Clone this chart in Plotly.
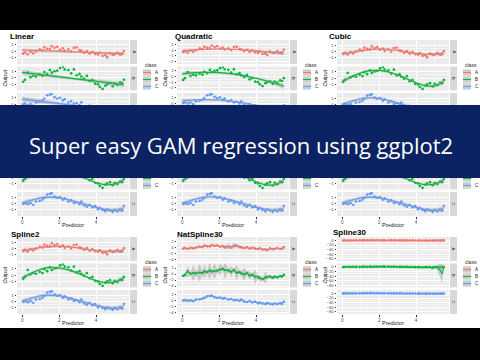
import plotly.graph_objects as go

W, H = 480, 360

# ---------------- data ----------------
predictor = [0.05, 0.15, 0.3, 0.45, 0.6, 0.75, 0.95, 1.1, 1.2, 1.35, 1.5, 1.6, 1.75, 1.9, 2.05, 2.2, 2.3, 2.5,
             2.65, 2.8, 2.95, 3.1, 3.2, 3.35, 3.5, 3.65, 3.8, 3.95, 4.1, 4.2, 4.35, 4.5, 4.6, 4.75, 4.9, 5.0,
             5.15, 5.3, 5.4, 5.5]
output_A = [-0.35, -0.2, -0.45, -0.1, -0.3, 0.0, 0.3, 0.15, 0.6, 0.4, 0.35, 0.8, 0.55, 0.7, 0.25, 0.45, 0.1, 0.3,
            0.0, 0.55, 0.6, 0.2, 0.1, -0.2, 0.05, -0.35, -0.1, -0.4, -0.5, -0.25, -0.7, -0.6, -0.9, -0.3, -0.55,
            -0.45, -0.2, -0.5, -0.4, 0.05]
output_B = [-0.6, -0.3, 0.8, 0.1, 0.3, 0.2, 0.5, 0.3, 0.9, 0.6, 1.2, 0.8, 1.0, 1.1, 1.5, 1.7, 1.3, 1.2, 0.7, 1.3,
            0.4, 0.6, 0.2, -0.1, 0.3, -0.5, -0.3, -0.9, -1.0, -1.4, -1.7, -1.2, -1.0, -0.8, -1.3, -0.9, -1.1,
            -0.7, -0.8, -0.3]
output_C = [0.0, 0.1, -0.1, 0.05, -0.2, 0.3, 0.4, 0.6, 0.9, 1.4, 1.5, 1.6, 1.1, 0.9, 1.0, 0.6, 0.8, 0.3, 0.5, 0.1,
            0.2, -0.1, 0.3, -0.3, -0.5, -0.2, -0.6, -0.4, -0.9, -0.7, -1.0, -1.2, -0.9, -1.1, -1.3, -1.0, -1.2,
            -0.9, -1.1, -0.4]
classes = ["A", "B", "C"]

# Linear fit
lin_x = [0, 2.75, 5.5]
lin_A = [0.2, -0.08, -0.35]
lin_B = [0.85, -0.1, -1.05]
lin_C = [0.8, -0.15, -1.1]
lin_se_A = [0.25, 0.12, 0.25]
lin_se_B = [0.4, 0.18, 0.4]
lin_se_C = [0.4, 0.18, 0.4]

# Quadratic fit
quad_x = [0, 1, 2, 3, 4, 5, 5.5]
quad_A = [-0.15, 0.1, 0.2, 0.1, -0.15, -0.45, -0.6]
quad_B = [0.5, 0.75, 0.7, 0.35, -0.3, -1.2, -1.75]
quad_C = [0.4, 0.6, 0.55, 0.2, -0.4, -1.2, -1.6]
quad_se_A = [0.25, 0.15, 0.12, 0.12, 0.15, 0.25, 0.35]
quad_se_B = [0.35, 0.2, 0.18, 0.18, 0.2, 0.35, 0.5]
quad_se_C = [0.35, 0.2, 0.18, 0.18, 0.2, 0.35, 0.5]

# Cubic fit
cub_x = [0, 0.5, 1, 1.5, 2, 2.5, 3, 3.5, 4, 4.5, 5, 5.5]
cub_A = [-0.35, -0.15, 0.1, 0.3, 0.4, 0.35, 0.15, -0.1, -0.3, -0.45, -0.45, -0.3]
cub_B = [-0.55, 0.2, 0.8, 1.15, 1.2, 0.95, 0.5, -0.1, -0.75, -1.2, -1.25, -0.6]
cub_C = [-0.1, 0.5, 0.9, 1.05, 0.95, 0.65, 0.25, -0.2, -0.6, -0.9, -1.05, -0.9]
cub_se_A = [0.3, 0.2, 0.15, 0.14, 0.14, 0.14, 0.14, 0.14, 0.14, 0.15, 0.2, 0.3]
cub_se_B = [0.4, 0.25, 0.2, 0.18, 0.18, 0.18, 0.18, 0.18, 0.18, 0.2, 0.25, 0.4]
cub_se_C = [0.4, 0.25, 0.2, 0.18, 0.18, 0.18, 0.18, 0.18, 0.18, 0.2, 0.25, 0.4]

# Spline2 fit
sp2_x = [0, 0.5, 1, 1.5, 2, 2.5, 3, 3.5, 4, 4.5, 5, 5.5]
sp2_A = [-0.35, -0.1, 0.15, 0.3, 0.35, 0.3, 0.1, -0.15, -0.35, -0.45, -0.45, -0.35]
sp2_B = [-0.5, 0.3, 0.9, 1.2, 1.1, 0.8, 0.3, -0.3, -0.9, -1.2, -1.1, -0.5]
sp2_C = [0.0, 0.5, 0.9, 1.0, 0.9, 0.6, 0.2, -0.2, -0.6, -0.95, -1.05, -0.85]
sp2_se_A = [0.3, 0.2, 0.16, 0.15, 0.15, 0.15, 0.15, 0.15, 0.15, 0.16, 0.2, 0.3]
sp2_se_B = [0.4, 0.26, 0.2, 0.18, 0.18, 0.18, 0.18, 0.18, 0.18, 0.2, 0.26, 0.4]
sp2_se_C = [0.4, 0.26, 0.2, 0.18, 0.18, 0.18, 0.18, 0.18, 0.18, 0.2, 0.26, 0.4]

# NatSpline30: line follows the data, confidence half-widths
ns_se_A = [0.3, 0.25, 0.3, 0.25, 0.3, 0.25, 0.3, 0.3, 0.35, 0.3, 0.3, 0.35, 0.3, 0.3, 0.35, 0.4, 0.6, 0.8, 0.5,
           0.9, 0.6, 0.4, 0.3, 0.3, 0.25, 0.3, 0.25, 0.3, 0.3, 0.25, 0.3, 0.3, 0.25, 0.3, 0.25, 0.3, 0.25, 0.3,
           0.3, 0.4]
ns_se_B = [0.4, 0.6, 1.8, 0.5, 2.7, 0.6, 3.0, 0.7, 2.4, 0.5, 3.2, 0.6, 2.7, 0.6, 2.2, 0.5, 2.8, 0.6, 1.7, 0.5,
           2.6, 0.6, 0.8, 2.2, 0.6, 1.4, 0.5, 2.4, 0.6, 1.1, 0.5, 2.0, 0.6, 0.5, 0.4, 0.5, 0.3, 0.4, 0.3, 0.4]
ns_se_C = [0.3, 0.2, 0.2, 0.25, 0.2, 0.2, 0.25, 0.2, 0.2, 0.25, 0.2, 0.2, 0.25, 0.2, 0.2, 0.25, 0.2, 0.2, 0.25,
           0.2, 0.2, 0.25, 0.2, 0.2, 0.25, 0.2, 0.2, 0.25, 0.2, 0.2, 0.25, 0.2, 0.2, 0.25, 0.2, 0.2, 0.25, 0.2,
           0.2, 0.3]

# Spline30: blows up at the right end of class B
s30_B = [-0.6, -0.3, 0.8, 0.1, 0.3, 0.2, 0.5, 0.3, 0.9, 0.6, 1.2, 0.8, 1.0, 1.1, 1.5, 1.7, 1.3, 1.2, 0.7, 1.3,
         0.4, 0.6, 0.2, -0.1, 0.3, -0.5, -0.3, -0.9, -1.0, -1.4, -1.7, -1.2, -1.0, -2.0, -6.0, 1.0, -3.0, -14.0,
         -30.0, -2.0]
s30_se_A = [2.5, 2.0, 1.5, 1.5, 1.5, 1.5, 1.5, 1.5, 1.5, 1.5, 1.5, 1.5, 1.5, 1.5, 1.5, 1.5, 1.5, 1.5, 1.5, 1.5,
            1.5, 1.5, 1.5, 1.5, 1.5, 1.5, 1.5, 1.5, 1.5, 1.5, 1.5, 1.5, 1.5, 1.5, 1.5, 1.5, 1.5, 1.5, 2.0, 2.5]
s30_se_B = [2.5, 2.0, 1.5, 1.5, 1.5, 1.5, 1.5, 1.5, 1.5, 1.5, 1.5, 1.5, 1.5, 1.5, 1.5, 1.5, 1.5, 1.5, 1.5, 1.5,
            1.5, 1.5, 1.5, 1.5, 1.5, 1.5, 1.5, 1.5, 1.5, 1.5, 1.5, 1.5, 2.0, 3.0, 6.0, 4.0, 10.0, 30.0, 45.0, 8.0]
s30_se_C = [2.0, 1.5, 1.2, 1.2, 1.2, 1.2, 1.2, 1.2, 1.2, 1.2, 1.2, 1.2, 1.2, 1.2, 1.2, 1.2, 1.2, 1.2, 1.2, 1.2,
            1.2, 1.2, 1.2, 1.2, 1.2, 1.2, 1.2, 1.2, 1.2, 1.2, 1.2, 1.2, 1.2, 1.2, 1.2, 1.2, 1.2, 1.2, 1.5, 2.0]

x_ticks = [0, 2, 4]
banner_text = "Super easy GAM regression using ggplot2"

# ---------------- styling / geometry ----------------
colors = {"A": "#F8766D", "B": "#00BA38", "C": "#619CFF"}
COL_X = [0, 160, 320]
ROW_T = [37, 136, 234]
FACETS = [(3, 27), (29.5, 53.5), (56, 80)]
BAN_TOP, BAN_BOT = 105, 178
TXT = "#4D4D4D"
FONT = "Liberation Sans"


def px(x):
    return x / W


def py(y):
    return 1 - y / H


data_y = {"A": output_A, "B": output_B, "C": output_C}
models = [
    dict(title="Linear", r=0, c=0, fx=lin_x, fit={"A": lin_A, "B": lin_B, "C": lin_C},
         se={"A": lin_se_A, "B": lin_se_B, "C": lin_se_C}, yr=[-1.95, 1.75], yt=[-1, 0, 1], shape="linear",
         tx=8, ty=0),
    dict(title="Quadratic", r=0, c=1, fx=quad_x, fit={"A": quad_A, "B": quad_B, "C": quad_C},
         se={"A": quad_se_A, "B": quad_se_B, "C": quad_se_C}, yr=[-2.5, 1.8], yt=[-2, -1, 0, 1], shape="spline",
         tx=173, ty=0),
    dict(title="Cubic", r=0, c=2, fx=cub_x, fit={"A": cub_A, "B": cub_B, "C": cub_C},
         se={"A": cub_se_A, "B": cub_se_B, "C": cub_se_C}, yr=[-1.95, 1.8], yt=[-1, 0, 1], shape="spline",
         tx=327, ty=0),
    dict(title=None, r=1, c=0, fx=sp2_x, fit={"A": sp2_A, "B": sp2_B, "C": sp2_C},
         se={"A": sp2_se_A, "B": sp2_se_B, "C": sp2_se_C}, yr=[-1.95, 1.8], yt=[-1, 0, 1], shape="spline",
         tx=8, ty=0),
    dict(title=None, r=1, c=1, fx=cub_x, fit={"A": cub_A, "B": cub_B, "C": cub_C},
         se={"A": cub_se_A, "B": cub_se_B, "C": cub_se_C}, yr=[-1.95, 1.8], yt=[-1, 0, 1], shape="spline",
         tx=173, ty=0),
    dict(title=None, r=1, c=2, fx=sp2_x, fit={"A": sp2_A, "B": sp2_B, "C": sp2_C},
         se={"A": sp2_se_A, "B": sp2_se_B, "C": sp2_se_C}, yr=[-1.95, 1.8], yt=[-1, 0, 1], shape="spline",
         tx=327, ty=0),
    dict(title="Spline2", r=2, c=0, fx=sp2_x, fit={"A": sp2_A, "B": sp2_B, "C": sp2_C},
         se={"A": sp2_se_A, "B": sp2_se_B, "C": sp2_se_C}, yr=[-1.95, 1.8], yt=[-1, 0, 1], shape="spline",
         tx=9, ty=0),
    dict(title="NatSpline30", r=2, c=1, fx=predictor, fit={"A": output_A, "B": output_B, "C": output_C},
         se={"A": ns_se_A, "B": ns_se_B, "C": ns_se_C}, yr=[-4.5, 3.5], yt=[-4, -2, 0, 2], shape="linear",
         tx=175, ty=0),
    dict(title="Spline30", r=2, c=2, fx=predictor, fit={"A": output_A, "B": s30_B, "C": output_C},
         se={"A": s30_se_A, "B": s30_se_B, "C": s30_se_C}, yr=[-90, 15], yt=[-80, -60, -40, -20, 0],
         shape="linear", tx=331, ty=-1.5),
]


def hidden(y, pad=3):
    return BAN_TOP - pad < y < BAN_BOT + pad


fig = go.Figure()
layout = dict(width=W, height=H, margin=dict(l=0, r=0, t=0, b=0), paper_bgcolor="white",
              plot_bgcolor="#EBEBEB", showlegend=False, font=dict(family=FONT, color=TXT))
shapes, annots = [], []

k = 0
for m in models:
    X0 = COL_X[m["c"]]
    T = ROW_T[m["r"]]
    for fi, cls in enumerate(classes):
        k += 1
        top, bot = T + FACETS[fi][0], T + FACETS[fi][1]
        xs = "x" if k == 1 else f"x{k}"
        ys = "y" if k == 1 else f"y{k}"
        xa = "xaxis" if k == 1 else f"xaxis{k}"
        ya = "yaxis" if k == 1 else f"yaxis{k}"
        bottom = fi == 2
        covered = top > BAN_TOP and bot < BAN_BOT
        layout[xa] = dict(domain=[px(X0 + 17), px(X0 + 129)], range=[-0.28, 5.78], anchor=ys,
                          tickvals=x_ticks, showticklabels=bottom and not covered,
                          ticks="outside" if bottom else "",
                          ticklen=1.5, tickwidth=0.5, tickcolor="#333333",
                          tickfont=dict(size=4.5, color=TXT, family=FONT),
                          showgrid=True, gridcolor="white", gridwidth=0.7, zeroline=False, showline=False,
                          minor=dict(tickvals=[1, 3, 5], showgrid=True, gridcolor="#F5F5F5", gridwidth=0.35))
        yt = m["yt"]
        ymin = [(yt[i] + yt[i + 1]) / 2 for i in range(len(yt) - 1)]
        layout[ya] = dict(domain=[py(bot), py(top)], range=m["yr"], anchor=xs, tickvals=yt,
                          showticklabels=not covered,
                          ticks="outside", ticklen=1.5, tickwidth=0.5, tickcolor="#333333",
                          tickfont=dict(size=4.2, color=TXT, family=FONT),
                          showgrid=True, gridcolor="white", gridwidth=0.7, zeroline=False, showline=False,
                          minor=dict(tickvals=ymin, showgrid=True, gridcolor="#F5F5F5", gridwidth=0.35))
        col = colors[cls]
        # points
        fig.add_trace(go.Scatter(x=predictor, y=data_y[cls], mode="markers", xaxis=xs, yaxis=ys,
                                 marker=dict(size=2.7, color=col, line=dict(width=0)), hoverinfo="skip"))
        # ribbon
        fx = m["fx"]
        f = m["fit"][cls]
        s = m["se"][cls]
        up = [a + b for a, b in zip(f, s)]
        lo = [a - b for a, b in zip(f, s)]
        fig.add_trace(go.Scatter(x=list(fx) + list(fx)[::-1], y=up + lo[::-1], mode="lines", fill="toself",
                                 fillcolor="rgba(153,153,153,0.45)", line=dict(width=0), xaxis=xs, yaxis=ys,
                                 hoverinfo="skip"))
        # fitted line
        fig.add_trace(go.Scatter(x=fx, y=f, mode="lines", xaxis=xs, yaxis=ys,
                                 line=dict(color=col, width=1.1, shape=m["shape"]), hoverinfo="skip"))
        # strip
        shapes.append(dict(type="rect", xref="paper", yref="paper", x0=px(X0 + 130), x1=px(X0 + 137),
                           y0=py(bot), y1=py(top), fillcolor="#D9D9D9", line=dict(width=0), layer="above"))
        yc = (top + bot) / 2
        if not hidden(yc):
            annots.append(dict(text=cls, x=px(X0 + 133.5), y=py(yc), xref="paper", yref="paper", showarrow=False,
                               textangle=90, font=dict(size=4, color="#1A1A1A", family=FONT),
                               xanchor="center", yanchor="middle"))
        # legend entry
        ly = T + 35.5 + 7 * fi
        shapes.append(dict(type="rect", xref="paper", yref="paper", x0=px(X0 + 143), x1=px(X0 + 151),
                           y0=py(ly + 3.2), y1=py(ly - 3.2), fillcolor="#CECECE", line=dict(width=0),
                           layer="above"))
        shapes.append(dict(type="line", xref="paper", yref="paper", x0=px(X0 + 143), x1=px(X0 + 151),
                           y0=py(ly), y1=py(ly), line=dict(color=col, width=1.1), layer="above"))
        if not hidden(ly):
            annots.append(dict(text=cls, x=px(X0 + 153), y=py(ly), xref="paper", yref="paper", showarrow=False,
                               font=dict(size=4.5, color="#1A1A1A", family=FONT), xanchor="left",
                               yanchor="middle"))
    # panel-level texts
    if not hidden(T + 28):
        annots.append(dict(text="class", x=px(X0 + 143), y=py(T + 28), xref="paper", yref="paper",
                           showarrow=False, font=dict(size=5, color="#1A1A1A", family=FONT),
                           xanchor="left", yanchor="middle"))
    if not hidden(T + 41.5, 6):
        annots.append(dict(text="Output", x=px(X0 + 4), y=py(T + 41.5), xref="paper", yref="paper",
                           showarrow=False, textangle=-90, font=dict(size=5.5, color="#1A1A1A", family=FONT),
                           xanchor="center", yanchor="middle"))
    if not hidden(T + 89):
        annots.append(dict(text="Predictor", x=px(X0 + 73), y=py(T + 89), xref="paper", yref="paper",
                           showarrow=False, font=dict(size=5.5, color="#1A1A1A", family=FONT),
                           xanchor="center", yanchor="middle"))
    if m["title"] and not hidden(T):
        annots.append(dict(text="<b>%s</b>" % m["title"], x=px(m["tx"]), y=py(T + m["ty"]), xref="paper",
                           yref="paper", showarrow=False, font=dict(size=8, color="black", family=FONT),
                           xanchor="left", yanchor="middle"))

# black bars and banner on top
shapes.append(dict(type="rect", xref="paper", yref="paper", x0=0, x1=1, y0=py(30), y1=1,
                   fillcolor="black", line=dict(width=0), layer="above"))
shapes.append(dict(type="rect", xref="paper", yref="paper", x0=0, x1=1, y0=0, y1=py(328),
                   fillcolor="black", line=dict(width=0), layer="above"))
shapes.append(dict(type="rect", xref="paper", yref="paper", x0=0, x1=1, y0=py(BAN_BOT), y1=py(BAN_TOP),
                   fillcolor="#0B2362", line=dict(width=0), layer="above"))
annots.append(dict(text=banner_text, x=px(241), y=py(145), xref="paper", yref="paper", showarrow=False,
                   font=dict(size=22, color="white", family="Open Sans", weight=500),
                   xanchor="center", yanchor="middle"))

layout["shapes"] = shapes
layout["annotations"] = annots
fig.update_layout(**layout)
fig.write_html("out.html", config={"displayModeBar": False},
               post_script="document.body.style.margin='0';document.body.style.overflow='hidden';")
